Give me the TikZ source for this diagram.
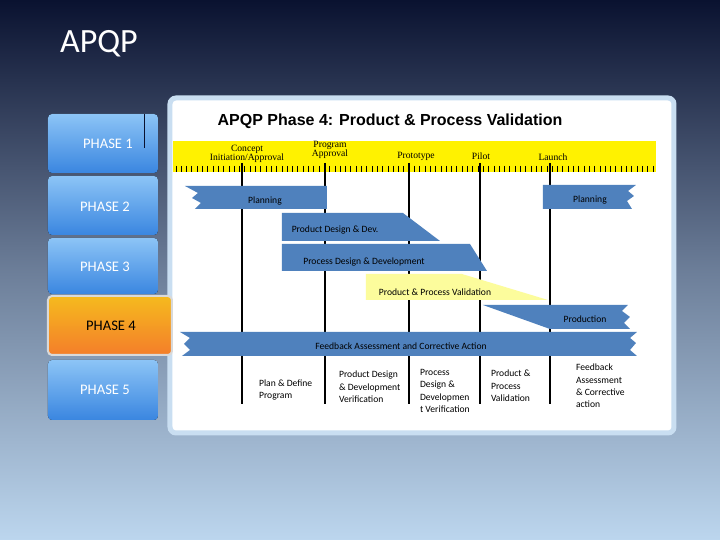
\documentclass[tikz,border=0pt]{standalone}
\usepackage{fontspec}
\setmainfont{Carlito}
\newfontfamily\titlefont{Liberation Sans}
\newfontfamily\serifsm{Liberation Serif}
\usetikzlibrary{shadings}
\definecolor{navy}{HTML}{0A1230}
\definecolor{skyb}{HTML}{BCD6EE}
\definecolor{barblue}{HTML}{4F81BD}
\definecolor{tabtop}{HTML}{8CC4F6}
\definecolor{tabbot}{HTML}{3A86E0}
\definecolor{orgtop}{HTML}{F5BA1E}
\definecolor{orgbot}{HTML}{F47E2A}
\definecolor{paleyel}{HTML}{FCFC9C}
\begin{document}
\begin{tikzpicture}[x=0.5pt,y=-0.5pt]
\tikzset{tab/.style = {rounded corners=2pt, top color=tabtop, bottom color=tabbot, draw=none}}
\tikzset{tabtext/.style = {text=white, font=\fontsize{7.3}{8}\selectfont}}
\tikzset{band/.style = {fill=barblue, draw=none}}
\tikzset{bandtext/.style = {font=\fontsize{4.8}{5}\selectfont}}
\tikzset{mile/.style = {font=\serifsm\fontsize{4.8}{4.4}\selectfont, align=center}}
\tikzset{foot/.style = {font=\fontsize{4.8}{6.2}\selectfont, align=left, anchor=west}}
\tikzset{post/.style = {line width=1.4pt, black}}
% background
\shade[top color=navy, bottom color=skyb, middle color=navy!45!skyb] (0,0) rectangle (720,540);
\useasboundingbox (0,0) rectangle (720,540);
\node[text=white, font=\fontsize{17}{18}\selectfont, anchor=west] (apqp) at (53,44) {APQP};
% white panel
\filldraw[fill=white, draw=skyb!80, line width=2.5pt, rounded corners=3pt] (170,98) rectangle (674,433);
% phase tabs
\fill[tab] (48,114) rectangle (158,173);
\fill[tab] (48,176) rectangle (158,235);
\fill[tab] (48,238) rectangle (158,294);
\fill[tab] (48,360) rectangle (158,420);
\filldraw[rounded corners=2pt, top color=orgtop, bottom color=orgbot, draw=gray!30, line width=1pt] (48,296) rectangle (172,355);
\draw[navy, line width=0.5pt] (145,114) -- (145,148);
\node[tabtext] (p1) at (108,144) {PHASE 1};
\node[tabtext] (p2) at (105,207) {PHASE 2};
\node[tabtext] (p3) at (105,267) {PHASE 3};
\node[font=\fontsize{7.3}{8}\selectfont] (p4) at (111,326) {PHASE 4};
\node[tabtext] (p5) at (105,390) {PHASE 5};
\node[font=\titlefont\bfseries\fontsize{8}{9}\selectfont] (title) at (390,121) {APQP Phase 4: Product \& Process Validation};
% timeline
\fill[yellow] (173,141) rectangle (656,172);
\foreach \i in {0,...,90} \draw[line width=0.4pt] (176+5.3*\i,166) -- (176+5.3*\i,172);
\foreach \n/\x in {a/242,b/325,c/409,d/480,e/550} {
  \coordinate (\n top) at (\x,163);
  \coordinate (\n bot) at (\x,404);
}
\foreach \n in {a,b,c,d,e} \draw[post] (\n top) -- (\n bot);
\node[mile] (concept) at (247,154) {Concept\\Initiation/Approval};
\node[mile] (program) at (330,150) {Program\\Approval};
\node[mile] (proto) at (416,156) {Prototype};
\node[mile] (pilot) at (481,156) {Pilot};
\node[mile] (launch) at (553,157) {Launch};
% bands
\fill[band] (185,186) -- (327,186) -- (327,209) -- (195,209) -- (201,203) -- (192,198) -- (198,193) -- cycle;
\fill[band] (543,185) -- (636,185) -- (628,191) -- (634,196) -- (627,201) -- (632,209) -- (543,209) -- cycle;
\fill[band] (282,213) -- (403,213) -- (440,241) -- (282,241) -- cycle;
\fill[band] (282,244) -- (470,244) -- (487,271) -- (282,271) -- cycle;
\fill[paleyel] (366,274) -- (462,274) -- (548,300) -- (366,300) -- cycle;
\fill[band] (483,305) -- (628,305) -- (622,311) -- (630,317) -- (624,323) -- (630,329) -- (550,329) -- cycle;
\fill[band] (180,332) -- (637,332) -- (630,338) -- (636,343) -- (630,350) -- (637,356) -- (182,356) -- (190,350) -- (184,344) -- (190,338) -- cycle;
\node[bandtext] (plan1) at (265,201) {Planning};
\node[bandtext] (plan2) at (590,200) {Planning};
\node[bandtext] (pdd) at (335,230) {Product Design \& Dev.};
\node[bandtext] (prdd) at (364,262) {Process Design \& Development};
\node[bandtext] (ppv) at (435,292) {Product \& Process Validation};
\node[bandtext] (prod) at (585,319) {Production};
\node[bandtext] (fb) at (401,346) {Feedback Assessment and Corrective Action};
% footer labels
\node[foot] (f1) at (252,390) {Plan \& Define\\Program};
\node[foot] (f2) at (332,387) {Product Design\\\& Development\\Verification};
\node[foot] (f3) at (413,391) {Process\\Design \&\\Developmen\\t Verification};
\node[foot] (f4) at (484,386) {Product \&\\Process\\Validation};
\node[foot] (f5) at (569,386) {Feedback\\Assessment\\\& Corrective\\action};
\end{tikzpicture}
\end{document}
